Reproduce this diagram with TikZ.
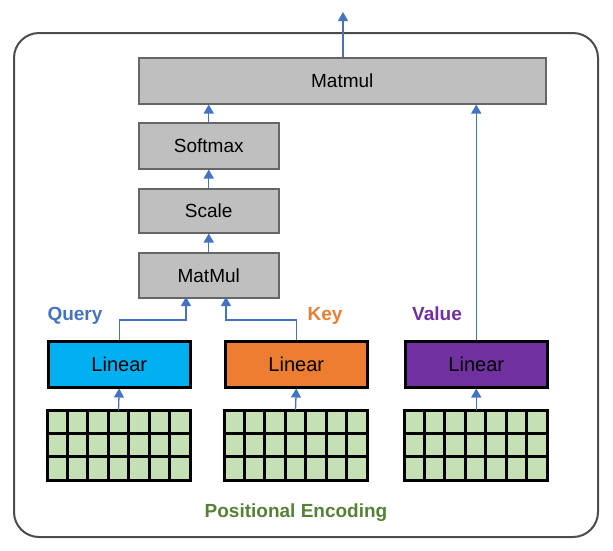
\documentclass[tikz,border=0pt]{standalone}
\usepackage{fontspec}
\setmainfont{Liberation Sans}
\usetikzlibrary{arrows.meta}
\definecolor{arrowblue}{RGB}{68,114,196}
\definecolor{qblue}{RGB}{0,176,240}
\definecolor{kor}{RGB}{237,125,49}
\definecolor{vpur}{RGB}{112,48,160}
\definecolor{cellgreen}{RGB}{197,224,180}
\definecolor{txtgreen}{RGB}{84,130,53}
\begin{document}
\begin{tikzpicture}[x=1pt,y=-1pt,
  op/.style={draw=black!60,fill=black!25,line width=1.5pt,anchor=north west,inner sep=0pt,
    font=\fontsize{19}{22}\selectfont},
  lin/.style={draw=black,line width=2.5pt,anchor=north west,inner sep=0pt,
    minimum width=142pt,minimum height=46pt,font=\fontsize{20}{23}\selectfont},
  arr/.style={draw=arrowblue,line width=1.3pt,-{Triangle[width=10pt,length=9pt]}},
  lab/.style={font=\bfseries\fontsize{19}{22}\selectfont}
]
\useasboundingbox (0,0) rectangle (613,550);
\draw[black!70,line width=2pt,rounded corners=25pt] (14,33) rectangle (598,537);

\node[op,minimum width=407pt,minimum height=46pt] (mm2) at (138,57) {Matmul};
\node[op,minimum width=140pt,minimum height=46pt] (sm) at (138,122) {Softmax};
\node[op,minimum width=140pt,minimum height=44pt] (sc) at (138,188) {Scale};
\node[op,minimum width=140pt,minimum height=45pt] (mm1) at (138,252) {MatMul};

\node[lin,fill=qblue] (lq) at (47,340) {Linear};
\node[lin,fill=kor] (lk) at (224,340) {Linear};
\node[lin,fill=vpur] (lv) at (404,340) {Linear};

\node[lab,text=arrowblue] (tq) at (75,316) {Query};
\node[lab,text=kor] (tk) at (325,316) {Key};
\node[lab,text=vpur] (tv) at (437,314) {Value};
\node[lab,text=txtgreen] (tp) at (296,513) {Positional Encoding};

\foreach \n/\x in {gq/47,gk/224,gv/404}{
  \fill[cellgreen] (\x,410) rectangle ++(143,70);
  \foreach \i in {0,...,7} \draw[line width=3pt] (\x+\i*143/7,410) -- (\x+\i*143/7,480);
  \foreach \j in {0,...,3} \draw[line width=3pt] (\x-1.5,410+\j*70/3) -- (\x+144.5,410+\j*70/3);
  \coordinate (\n) at (\x+71.5,410);
}
\coordinate (top) at (343,12);

\draw[arr] (gq) -- (lq.south);
\draw[arr] (gk) -- (lk.south);
\draw[arr] (gv-|lv.south) -- (lv.south);
\draw[arr] (lq.north) |- (186,320) -- (186,297);
\draw[arr] (lk.north) |- (226,320) -- (226,297);
\draw[arr] (lv.north) -- (lv.north|-mm2.south);
\draw[arr] (mm1.north) -- (sc.south);
\draw[arr] (sc.north) -- (sm.south);
\draw[arr] (sm.north) -- (sm.north|-mm2.south);
\draw[arr] (mm2.north-|top) -- (top);
\end{tikzpicture}
\end{document}
